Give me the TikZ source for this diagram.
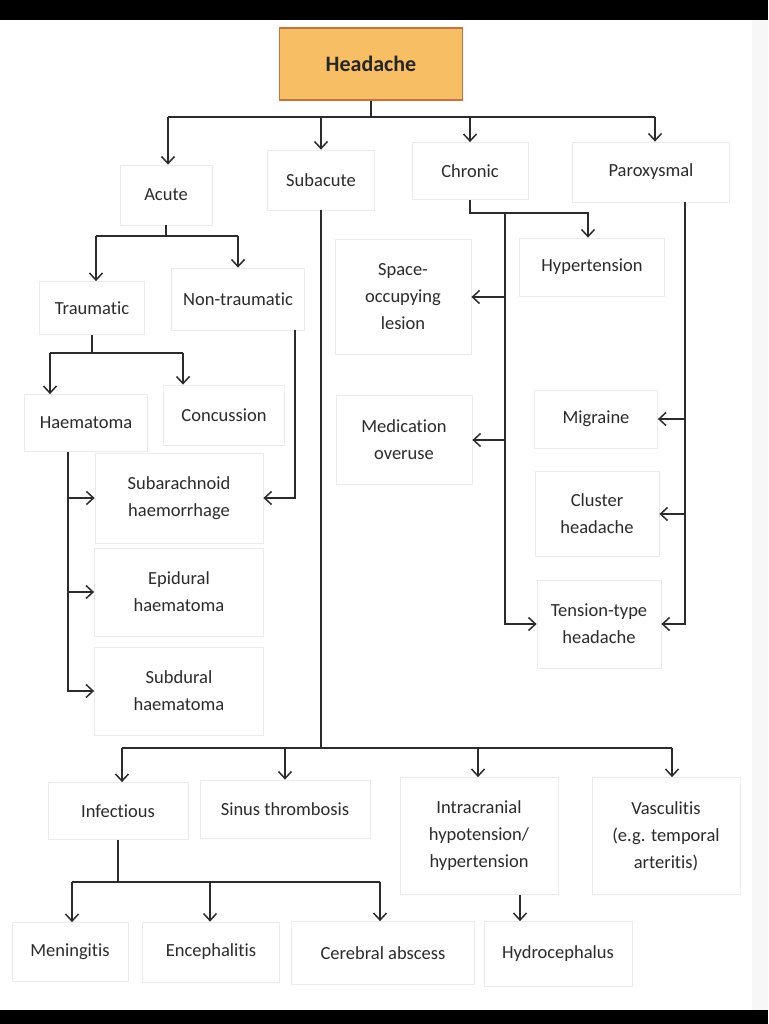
\documentclass[tikz,border=0pt]{standalone}
\usepackage{fontspec}
\setmainfont[Ligatures={NoCommon}]{Carlito}
\usetikzlibrary{arrows.meta}
\definecolor{ink}{HTML}{2B2B2B}
\definecolor{headfill}{HTML}{F7BE63}
\definecolor{headdraw}{HTML}{C8733A}
\tikzset{
  box/.style={draw=gray!16, line width=0.8pt, fill=white, inner sep=0pt, align=center,
    text=ink, font=\fontsize{18.5}{27}\selectfont},
  conn/.style={draw=ink, line width=1.7pt},
  arr/.style={conn, -{Straight Barb[length=7pt,width=13pt,line width=1.5pt]}},
}
\begin{document}
\begin{tikzpicture}[x=1pt,y=-1pt]
\fill[white] (0,0) rectangle (768,1024);
\useasboundingbox (0,0) rectangle (768,1024);
\fill[gray!6] (752,20) rectangle (768,1010);
\fill[black] (0,0) rectangle (768,20);
\fill[black] (0,1010) rectangle (768,1024);

% nodes
\node[box, draw=headdraw, fill=headfill, line width=1.2pt, minimum width=183pt, minimum height=72pt,
  text=black!85, font=\fontsize{22}{26}\selectfont\bfseries] (head) at (371,64) {Headache};
\node[box, minimum width=92pt, minimum height=60pt] (acute) at (166,195) {Acute};
\node[box, minimum width=107pt, minimum height=60pt] (subac) at (321,180) {Subacute};
\node[box, minimum width=116pt, minimum height=57pt] (chron) at (470,171) {Chronic};
\node[box, minimum width=157pt, minimum height=60pt] (parox) at (651,172) {Paroxysmal};
\node[box, minimum width=105pt, minimum height=53pt] (traum) at (92,308) {Traumatic};
\node[box, minimum width=133pt, minimum height=62pt] (nontr) at (238,299) {Non-traumatic};
\node[box, minimum width=123pt, minimum height=57pt] (haem) at (86,423) {Haematoma};
\node[box, minimum width=121pt, minimum height=60pt] (conc) at (224,415) {Concussion};
\node[box, minimum width=168pt, minimum height=90pt] (subar) at (179,498) {Subarachnoid\\haemorrhage};
\node[box, minimum width=169pt, minimum height=88pt] (epi) at (179,592) {Epidural\\haematoma};
\node[box, minimum width=169pt, minimum height=88pt] (subd) at (179,691) {Subdural\\haematoma};
\node[box, minimum width=145pt, minimum height=58pt] (hyper) at (592,267) {Hypertension};
\node[box, minimum width=136pt, minimum height=115pt] (space) at (403,297) {Space-\\occupying\\lesion};
\node[box, minimum width=136pt, minimum height=89pt] (medic) at (404,440) {Medication\\overuse};
\node[box, minimum width=123pt, minimum height=58pt] (migr) at (596,419) {Migraine};
\node[box, minimum width=124pt, minimum height=85pt] (clust) at (597,514) {Cluster\\headache};
\node[box, minimum width=124pt, minimum height=88pt] (tens) at (599,624) {Tension-type\\headache};
\node[box, minimum width=140pt, minimum height=57pt] (infec) at (118,811) {Infectious};
\node[box, minimum width=170pt, minimum height=58pt] (sinus) at (285,809) {Sinus thrombosis};
\node[box, minimum width=158pt, minimum height=117pt] (intra) at (479,836) {Intracranial\\hypotension/\\hypertension};
\node[box, minimum width=148pt, minimum height=117pt] (vasc) at (666,836) {Vasculitis\\(e.g. temporal\\arteritis)};
\node[box, minimum width=116pt, minimum height=59pt] (menin) at (70,952) {Meningitis};
\node[box, minimum width=137pt, minimum height=60pt] (encep) at (211,952) {Encephalitis};
\node[box, minimum width=183pt, minimum height=63pt] (cereb) at (383,953) {Cerebral abscess};
\node[box, minimum width=148pt, minimum height=65pt] (hydro) at (558,954) {Hydrocephalus};

% top level
\coordinate (b1) at (168,117);
\coordinate (b2) at (321,117);
\coordinate (b3) at (470,117);
\coordinate (b4) at (655,117);
\draw[conn] (head.south) -- (head.south |- b1);
\draw[conn] (b1) -- (b4);
\draw[arr] (b1) -- (b1 |- acute.north);
\draw[arr] (b2) -- (b2 |- subac.north);
\draw[arr] (b3) -- (b3 |- chron.north);
\draw[arr] (b4) -- (b4 |- parox.north);

% acute
\coordinate (a1) at (96,236);
\coordinate (a2) at (238,236);
\draw[conn] (acute.south) -- (acute.south |- a1);
\draw[conn] (a1) -- (a2);
\draw[arr] (a1) -- (a1 |- traum.north);
\draw[arr] (a2) -- (a2 |- nontr.north);

% traumatic
\coordinate (t1) at (50,353);
\coordinate (t2) at (183,353);
\draw[conn] (traum.south) -- (traum.south |- t1);
\draw[conn] (t1) -- (t2);
\draw[arr] (t1) -- (t1 |- haem.north);
\draw[arr] (t2) -- (t2 |- conc.north);

% non-traumatic
\coordinate (n1) at (295,0);
\draw[arr] (nontr.south -| n1) |- (subar.east);

% haematoma
\coordinate (h1) at (68,0);
\draw[conn] (haem.south -| h1) -- (h1 |- subar.west);
\draw[arr] (h1 |- subar.west) -- (subar.west);
\draw[arr] (h1 |- subar.west) |- (epi.west);
\draw[arr] (h1 |- epi.west) |- (subd.west);

% chronic
\coordinate (c1) at (505,213);
\coordinate (c2) at (588,213);
\draw[arr] (chron.south) |- (c2) -- (c2 |- hyper.north);
\draw[arr] (c1) |- (tens.west);
\draw[arr] (c1 |- space.east) -- (space.east);
\draw[arr] (c1 |- medic.east) -- (medic.east);

% paroxysmal
\coordinate (p1) at (685,0);
\draw[arr] (parox.south -| p1) |- (tens.east);
\draw[arr] (p1 |- migr.east) -- (migr.east);
\draw[arr] (p1 |- clust.east) -- (clust.east);

% subacute
\coordinate (s1) at (122,748);
\coordinate (s2) at (285,748);
\coordinate (s3) at (478,748);
\coordinate (s4) at (672,748);
\draw[conn] (subac.south) -- (subac.south |- s1);
\draw[conn] (s1) -- (s4);
\draw[arr] (s1) -- (s1 |- infec.north);
\draw[arr] (s2) -- (s2 |- sinus.north);
\draw[arr] (s3) -- (s3 |- intra.north);
\draw[arr] (s4) -- (s4 |- vasc.north);

% infectious
\coordinate (i1) at (72,882);
\coordinate (i2) at (210,882);
\coordinate (i3) at (380,882);
\draw[conn] (infec.south) -- (infec.south |- i1);
\draw[conn] (i1) -- (i3);
\draw[arr] (i1) -- (i1 |- menin.north);
\draw[arr] (i2) -- (i2 |- encep.north);
\draw[arr] (i3) -- (i3 |- cereb.north);

% intracranial -> hydrocephalus
\coordinate (hx) at (520,0);
\draw[arr] (intra.south -| hx) -- (hx |- hydro.north);
\end{tikzpicture}
\end{document}
